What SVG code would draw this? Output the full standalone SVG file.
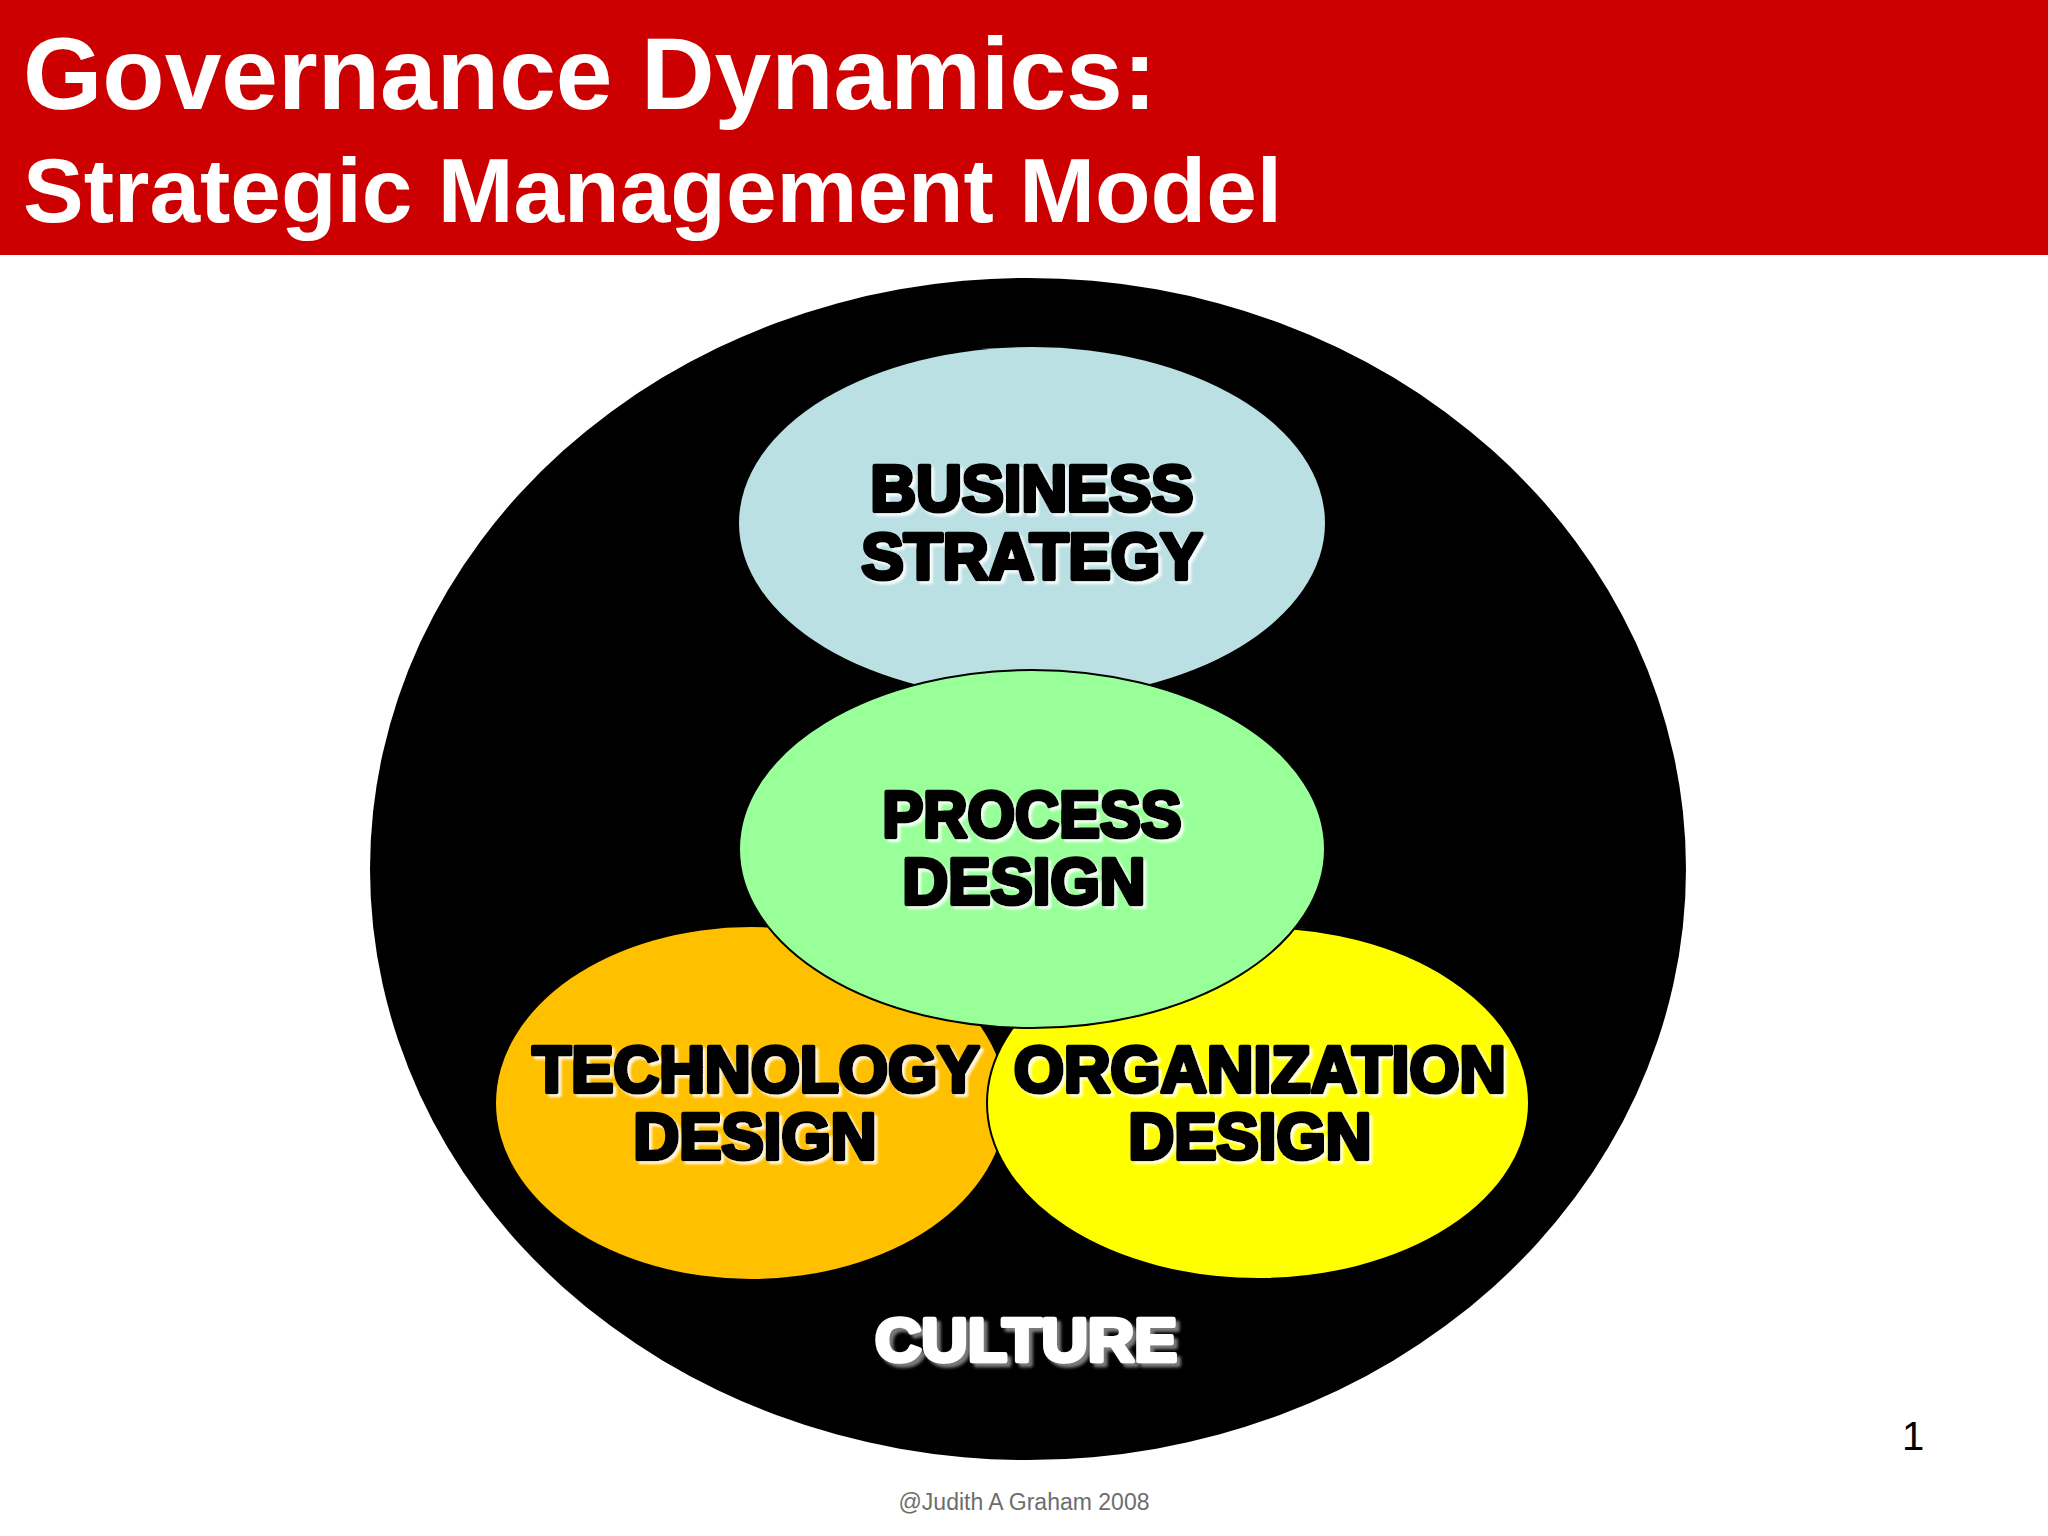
<svg xmlns="http://www.w3.org/2000/svg" width="2048" height="1536" viewBox="0 0 2048 1536">
<defs>
<style>
.title{font-family:"Liberation Sans",Arial,sans-serif;font-weight:bold;fill:#fff}
.lbl{font-family:"Liberation Sans",Arial,sans-serif;font-weight:bold;font-size:64px;fill:#000;stroke:#000;stroke-width:4.5;stroke-linejoin:round;text-anchor:middle}
.cult{font-family:"Liberation Sans",Arial,sans-serif;font-weight:bold;font-size:62px;fill:#fff;stroke:#fff;stroke-width:4.5;stroke-linejoin:round;text-anchor:middle}
.node{stroke:#000;stroke-width:2}
</style>
<filter id="wsh" x="-10%" y="-30%" width="120%" height="160%">
<feOffset in="SourceAlpha" dx="3" dy="3" result="o"/>
<feFlood flood-color="#fff" flood-opacity="0.85"/>
<feComposite in2="o" operator="in" result="s"/>
<feGaussianBlur in="s" stdDeviation="1" result="b"/>
<feMerge><feMergeNode in="b"/><feMergeNode in="SourceGraphic"/></feMerge>
</filter>
<filter id="gsh" x="-10%" y="-30%" width="120%" height="160%">
<feOffset in="SourceAlpha" dx="4" dy="4" result="o"/>
<feFlood flood-color="#888" flood-opacity="0.9"/>
<feComposite in2="o" operator="in" result="s"/>
<feGaussianBlur in="s" stdDeviation="1.5" result="b"/>
<feMerge><feMergeNode in="b"/><feMergeNode in="SourceGraphic"/></feMerge>
</filter>
</defs>
<rect width="2048" height="1536" fill="#fff"/>
<g id="header">
<rect x="0" y="0" width="2048" height="255" fill="#CC0000"/>
<text class="title" x="23" y="109" font-size="102">Governance Dynamics:</text>
<text class="title" x="23" y="222" font-size="91">Strategic Management Model</text>
</g>
<g id="culture">
<ellipse cx="1028" cy="869" rx="658" ry="591" fill="#000"/>
<text class="cult" x="1026" y="1361" textLength="302" lengthAdjust="spacingAndGlyphs" filter="url(#gsh)">CULTURE</text>
</g>
<g id="business-strategy">
<ellipse cx="1032" cy="523" rx="293" ry="176" fill="#BBE0E3"/>
<g filter="url(#wsh)">
<text class="lbl" x="1032" y="511" textLength="323" lengthAdjust="spacingAndGlyphs">BUSINESS</text>
<text class="lbl" x="1032" y="579" textLength="341" lengthAdjust="spacingAndGlyphs">STRATEGY</text>
</g>
</g>
<g id="technology-design">
<ellipse cx="751" cy="1103" rx="255" ry="176" fill="#FFC000"/>
<g filter="url(#wsh)">
<text class="lbl" x="756" y="1092" textLength="447" lengthAdjust="spacingAndGlyphs">TECHNOLOGY</text>
<text class="lbl" x="755" y="1159" textLength="243" lengthAdjust="spacingAndGlyphs">DESIGN</text>
</g>
</g>
<g id="organization-design">
<ellipse class="node" cx="1258" cy="1103" rx="271" ry="176" fill="#FFFF00"/>
<g filter="url(#wsh)">
<text class="lbl" x="1260" y="1092" textLength="492" lengthAdjust="spacingAndGlyphs">ORGANIZATION</text>
<text class="lbl" x="1250" y="1159" textLength="243" lengthAdjust="spacingAndGlyphs">DESIGN</text>
</g>
</g>
<g id="process-design">
<ellipse class="node" cx="1032" cy="849" rx="293" ry="179" fill="#99FF99"/>
<g filter="url(#wsh)">
<text class="lbl" x="1032" y="837" textLength="299" lengthAdjust="spacingAndGlyphs">PROCESS</text>
<text class="lbl" x="1024" y="904" textLength="243" lengthAdjust="spacingAndGlyphs">DESIGN</text>
</g>
</g>
<g id="connectors"></g>
<g id="footer">
<text x="1913" y="1450" font-family="'Liberation Sans',Arial,sans-serif" font-size="40" fill="#000" text-anchor="middle">1</text>
<text x="1024" y="1510" font-family="'Liberation Sans',Arial,sans-serif" font-size="23" fill="#6D6D6D" text-anchor="middle">@Judith A Graham 2008</text>
</g>
</svg>
